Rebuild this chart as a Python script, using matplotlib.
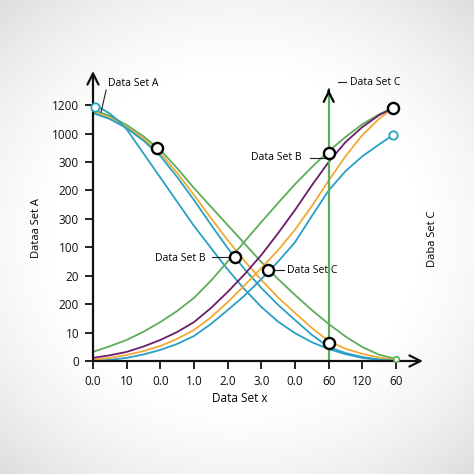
import numpy as np
import matplotlib.pyplot as plt

plt.rcParams['font.family'] = ['Open Sans', 'DejaVu Sans']

# tick labels as printed on the chart
x_labels = ['0.0', '10', '0.0', '1.0', '2.0', '3.0', '0.0', '60', '120', '60']
y_labels = ['0', '10', '200', '20', '100', '300', '200', '300', '1000', '1200']

# falling curves (x in tick positions)
fall_x = [0, 0.5, 1, 1.5, 2, 2.5, 3, 3.5, 4, 4.5, 5, 5.5, 6, 6.5, 7, 7.5, 8, 8.5, 9]
fall_green = [8.83, 8.62, 8.30, 7.90, 7.42, 6.78, 6.08, 5.43, 4.78, 4.13, 3.48,
              2.88, 2.32, 1.79, 1.30, 0.86, 0.49, 0.22, 0.07]
fall_orange = [8.76, 8.55, 8.23, 7.82, 7.31, 6.61, 5.84, 5.03, 4.25, 3.52, 2.85,
               2.23, 1.69, 1.16, 0.70, 0.43, 0.25, 0.12, 0.04]
fall_blue = [8.72, 8.51, 8.19, 7.75, 7.21, 6.47, 5.66, 4.80, 3.97, 3.23, 2.57,
             1.97, 1.44, 0.92, 0.49, 0.28, 0.14, 0.05, 0.0]
steep_x = [0, 0.25, 0.5, 0.75, 1, 1.5, 2, 2.5, 3, 3.5, 4, 4.5, 5, 5.5, 6, 6.5, 7, 7.5, 8, 8.5, 9]
steep_blue = [8.97, 8.88, 8.70, 8.45, 8.15, 7.30, 6.45, 5.60, 4.75, 3.98, 3.22,
              2.52, 1.90, 1.38, 0.98, 0.66, 0.42, 0.24, 0.11, 0.04, 0.0]

# rising curves
rise_x = [0, 0.5, 1, 1.5, 2, 2.5, 3, 3.5, 4, 4.5, 5, 5.5, 6, 6.5, 7, 7.5, 8, 8.5, 8.91]
rise_green = [0.32, 0.52, 0.74, 1.03, 1.37, 1.76, 2.22, 2.82, 3.50, 4.20, 4.89,
              5.56, 6.22, 6.82, 7.38, 7.88, 8.33, 8.68, 8.90]
rise_purple = [0.11, 0.20, 0.32, 0.51, 0.74, 1.02, 1.37, 1.86, 2.43, 3.05, 3.73,
               4.50, 5.31, 6.18, 7.00, 7.70, 8.23, 8.65, 8.90]
rise_orange = [0.04, 0.11, 0.21, 0.35, 0.53, 0.78, 1.09, 1.53, 2.07, 2.66, 3.27,
               3.90, 4.62, 5.45, 6.35, 7.20, 7.95, 8.52, 8.90]
rise_blue = [0.0, 0.04, 0.11, 0.23, 0.39, 0.60, 0.88, 1.30, 1.79, 2.30, 2.88,
             3.50, 4.18, 5.10, 6.00, 6.68, 7.20, 7.62, 7.95]

# marked points
mark_x = [1.90, 4.22, 5.20, 7.0, 7.0, 8.91]
mark_y = [7.49, 3.66, 3.20, 7.31, 0.63, 8.90]

green = '#5cad5a'
orange = '#f1a935'
purple = '#6b1d6b'
blue = '#2a9fc4'

fig = plt.figure(figsize=(4.74, 4.74), dpi=100)

# soft grey background
bg = fig.add_axes([0, 0, 1, 1], zorder=-10)
yy, xx = np.mgrid[-1:1:200j, -1:1:200j]
r = np.sqrt(xx**2 + (yy * 1.1)**2)
bg.imshow(np.clip(1.03 - 0.06 * r**2.5, 0, 1), cmap='gray', vmin=0, vmax=1,
          extent=[0, 1, 0, 1], aspect='auto')
bg.axis('off')

ax = fig.add_axes([93 / 474, 113 / 474, 330 / 474, 290 / 474])
ax.patch.set_alpha(0)
ax.set_xlim(0, 9.8)
ax.set_ylim(0, 10.2)
for s in ax.spines.values():
    s.set_visible(False)

lw = 1.3
ax.plot(fall_x, fall_green, color=green, lw=lw)
ax.plot(fall_x, fall_orange, color=orange, lw=lw)
ax.plot(fall_x, fall_blue, color=blue, lw=lw)
ax.plot(steep_x, steep_blue, color=blue, lw=lw)
ax.plot(rise_x, rise_green, color=green, lw=lw)
ax.plot(rise_x, rise_blue, color=blue, lw=lw)
ax.plot(rise_x, rise_orange, color=orange, lw=lw)
ax.plot(rise_x, rise_purple, color=purple, lw=lw)

# vertical marker line
ax.plot([7.0, 7.0], [0, 9.55], color=green, lw=1.6)
ax.annotate('', xy=(7.0, 9.65), xytext=(7.0, 9.4),
            arrowprops=dict(arrowstyle='->', color='black', lw=1.6, mutation_scale=18),
            annotation_clip=False)

# axes with arrow heads
ax.annotate('', xy=(9.8, 0), xytext=(0, 0),
            arrowprops=dict(arrowstyle='->', color='#111111', lw=1.6, mutation_scale=20,
                            shrinkA=0, shrinkB=0), annotation_clip=False)
ax.annotate('', xy=(0, 10.2), xytext=(0, 0),
            arrowprops=dict(arrowstyle='->', color='#111111', lw=1.6, mutation_scale=20,
                            shrinkA=0, shrinkB=0), annotation_clip=False)

ax.plot(mark_x, mark_y, 'o', ms=8, mfc='white', mec='black', mew=1.7, clip_on=False, zorder=5)
ax.plot([0.06, 8.91], [8.93, 7.95], 'o', ms=6, mfc='white', mec=blue, mew=1.3, clip_on=False, zorder=4)
ax.plot([9.0], [0.07], 'o', ms=4, mfc='white', mec=green, mew=1.2, clip_on=False, zorder=4)

ax.set_xticks(range(10))
ax.set_xticklabels(x_labels)
ax.set_yticks(range(10))
ax.set_yticklabels(y_labels)
ax.tick_params(direction='out', length=6, width=1.3, labelsize=8.5, colors='#111111', pad=4)

fs = 7.5
ax.text(0.45, 9.77, 'Data Set A', fontsize=fs, va='center')
ax.plot([0.39, 0.24], [9.53, 8.76], color='#222222', lw=0.8, clip_on=False)
ax.text(7.63, 9.81, 'Data Set C', fontsize=fs, va='center')
ax.plot([7.28, 7.51], [9.81, 9.81], color='#222222', lw=0.8, clip_on=False)
ax.text(6.18, 7.17, 'Data Set B', fontsize=fs, va='center', ha='right')
ax.plot([6.44, 6.98], [7.14, 7.14], color='#222222', lw=0.8)
ax.text(3.33, 3.62, 'Data Set B', fontsize=fs, va='center', ha='right')
ax.plot([3.53, 4.07], [3.66, 3.66], color='#222222', lw=0.8)
ax.text(5.76, 3.20, 'Data Set C', fontsize=fs, va='center')
ax.plot([5.41, 5.67], [3.20, 3.20], color='#222222', lw=0.8)

fig.text(0.078, 0.519, 'Dataa Set A', rotation=90, fontsize=8, ha='center', va='center')
fig.text(0.913, 0.496, 'Daba Set C', rotation=90, fontsize=8, ha='center', va='center')
fig.text(0.506, 0.160, 'Data Set x', fontsize=8.5, ha='center', va='center')

fig.savefig('out.png', dpi=100)
